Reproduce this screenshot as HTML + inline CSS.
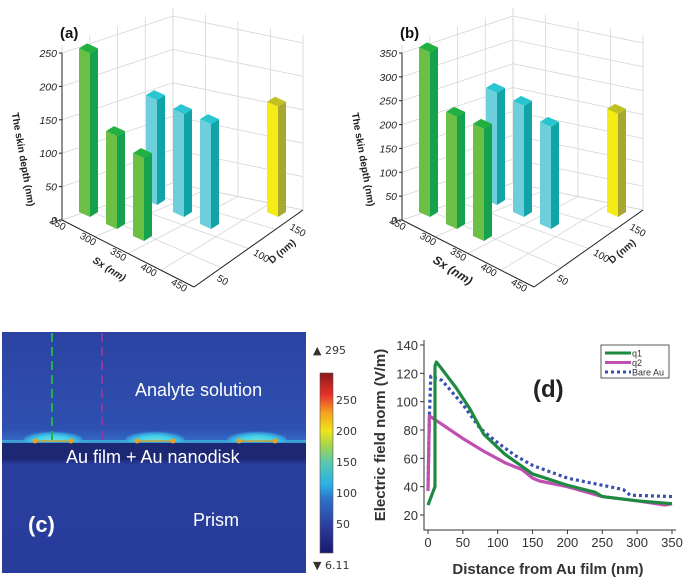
<!DOCTYPE html>
<html><head><meta charset="utf-8"><style>
body{margin:0;background:#fff;width:685px;height:579px;overflow:hidden;font-family:"Liberation Sans",sans-serif}
svg{position:absolute;left:0;top:0}
</style></head><body>
<svg id="fig" width="685" height="579" viewBox="0 0 685 579">
<defs>
<linearGradient id="cbar" x1="0" y1="1" x2="0" y2="0">
<stop offset="0" stop-color="#1a1a6e"/><stop offset="0.15" stop-color="#2b3d9c"/><stop offset="0.3" stop-color="#2f72c8"/><stop offset="0.38" stop-color="#2bb0e6"/><stop offset="0.5" stop-color="#56c8b0"/><stop offset="0.6" stop-color="#a8d44a"/><stop offset="0.68" stop-color="#f2e41c"/><stop offset="0.78" stop-color="#f5a020"/><stop offset="0.88" stop-color="#e8302a"/><stop offset="1" stop-color="#8a1a1a"/>
</linearGradient>
<radialGradient id="glow" cx="0.5" cy="1" r="0.6" fx="0.5" fy="1" gradientTransform="translate(0,0)">
<stop offset="0" stop-color="#7fe0d0"/><stop offset="0.55" stop-color="#40d0ea"/><stop offset="0.8" stop-color="#3aa8e0" stop-opacity="0.8"/><stop offset="1" stop-color="#2f6fc8" stop-opacity="0"/>
</radialGradient>
<linearGradient id="bg" x1="0" y1="0" x2="0" y2="1">
<stop offset="0" stop-color="#2c43a2"/><stop offset="0.4" stop-color="#2e50b0"/><stop offset="0.45" stop-color="#3468c4"/><stop offset="0.46" stop-color="#1d2a78"/><stop offset="0.53" stop-color="#1f2d80"/><stop offset="0.55" stop-color="#2a3e9e"/><stop offset="1" stop-color="#283c9a"/>
</linearGradient>
</defs>
<g id="pa"></g>
<g id="pb"></g>
<g id="pc">
<rect x="2" y="332" width="304" height="241" fill="url(#bg)"/>
<rect x="2" y="440" width="304" height="3" fill="#3fb4e0" opacity="0.8"/>
<rect x="2" y="443" width="304" height="17" fill="#1c2874"/>
<g>
<path d="M23,442 A30,19 0 0 1 83,442 Z" fill="url(#glow)"/>
<path d="M125,442 A30,19 0 0 1 185,442 Z" fill="url(#glow)"/>
<path d="M227,442 A30,19 0 0 1 287,442 Z" fill="url(#glow)"/>
<line x1="35" y1="441" x2="71" y2="441" stroke="#c0a040" stroke-width="1.5"/>
<line x1="137" y1="441" x2="173" y2="441" stroke="#c0a040" stroke-width="1.5"/>
<line x1="239" y1="441" x2="275" y2="441" stroke="#c0a040" stroke-width="1.5"/>
<circle cx="35" cy="441" r="2.5" fill="#f0a020"/><circle cx="71" cy="441" r="2.5" fill="#f0a020"/>
<circle cx="137" cy="441" r="2.5" fill="#f0a020"/><circle cx="173" cy="441" r="2.5" fill="#f0a020"/>
<circle cx="239" cy="441" r="2.5" fill="#f0a020"/><circle cx="275" cy="441" r="2.5" fill="#f0a020"/>
</g>
<line x1="52" y1="333" x2="52" y2="445" stroke="#22b050" stroke-width="2" stroke-dasharray="9,5"/>
<line x1="102" y1="333" x2="102" y2="445" stroke="#8a3a9a" stroke-width="2" stroke-dasharray="9,5"/>
<text x="135" y="396" font-size="18" fill="#fff">Analyte solution</text>
<text x="66" y="463" font-size="18" fill="#fff">Au film + Au nanodisk</text>
<text x="193" y="526" font-size="18" fill="#fff">Prism</text>
<text x="28" y="532" font-size="22" font-weight="bold" fill="#fff">(c)</text>
<rect x="320" y="373" width="13" height="180" fill="url(#cbar)" stroke="#555" stroke-width="0.6"/>
<g font-size="11" fill="#333" font-family="'DejaVu Sans',sans-serif">
<text x="313" y="354">▲ 295</text><text x="313" y="569">▼ 6.11</text>
<text x="336" y="404">250</text><text x="336" y="435">200</text><text x="336" y="466">150</text><text x="336" y="497">100</text><text x="336" y="528">50</text>
</g>
</g>
<g id="pd"></g>
</svg>
<script>
const NS='http://www.w3.org/2000/svg';
function mk(p,t,a,txt){const e=document.createElementNS(NS,t);for(const k in a)e.setAttribute(k,a[k]);if(txt!==undefined)e.textContent=txt;p.appendChild(e);return e;}

// ---- 3D bar data ----
const barSx=[250,300,350,300,350,400,450];
const barD=[50,50,50,100,100,100,150];
const barKind=['g','g','g','c','c','c','y'];
const valuesA=[245,139,124,157,154,157,165];
const valuesB=[345,235,235,235,233,214,216];
const zTicksA=[0,50,100,150,200,250];
const zTicksB=[0,50,100,150,200,250,300,350];
const sxTicks=[250,300,350,400,450];
const dTicks=[50,100,150];

function draw3D(g,ox,vals,zmax,zt,label,ytitleSmall){
  const L=[ox+62,220],F=[ox+194,287],R=[ox+303,210],B=[ox+173,183];
  const H=167;
  const zp=v=>v/zmax*H;
  const lerp=(a,b,t)=>[a[0]+(b[0]-a[0])*t,a[1]+(b[1]-a[1])*t];
  const gl={stroke:'#d6d6d6','stroke-width':0.8,fill:'none'};
  const n=zt.length-1;
  for(let i=0;i<=n;i++){const h=zp(zt[i]);
    let l=mk(g,'polyline',Object.assign({points:`${L[0]},${L[1]-h} ${B[0]},${B[1]-h} ${R[0]},${R[1]-h}`},gl));
    }
  for(let i=0;i<=4;i++){const p=lerp(L,B,i/4),q=lerp(B,R,i/4);
    mk(g,'line',Object.assign({x1:p[0],y1:p[1],x2:p[0],y2:p[1]-H-8},gl));
    mk(g,'line',Object.assign({x1:q[0],y1:q[1],x2:q[0],y2:q[1]-H-8},gl));}
  mk(g,'line',Object.assign({x1:B[0],y1:B[1],x2:B[0],y2:13},gl));
  for(let i=0;i<=4;i++){const t=i/4;const a=lerp(L,F,t),b=lerp(B,R,t);mk(g,'line',Object.assign({x1:a[0],y1:a[1],x2:b[0],y2:b[1]},gl));
    const c=lerp(F,R,t),d=lerp(L,B,t);mk(g,'line',Object.assign({x1:c[0],y1:c[1],x2:d[0],y2:d[1]},gl));}
  const ax={stroke:'#222','stroke-width':1,fill:'none'};
  let a1=mk(g,'line',Object.assign({x1:L[0],y1:L[1],x2:L[0],y2:L[1]-H},ax));
  mk(g,'line',Object.assign({x1:L[0],y1:L[1],x2:F[0],y2:F[1]},ax));
  mk(g,'line',Object.assign({x1:F[0],y1:F[1],x2:R[0],y2:R[1]},ax));
  zt.forEach(v=>{const y=L[1]-zp(v);mk(g,'line',{x1:L[0]-3,y1:y,x2:L[0],y2:y,stroke:'#222'});
    let t=mk(g,'text',{x:L[0]-5,y:y+4,'font-size':10.5,'font-style':'italic','text-anchor':'end',fill:'#222'},v);
    });
  sxTicks.forEach((v,i)=>{const p=lerp(L,F,(v-250)/200*0.92+0.04);
    let t=mk(g,'text',{x:p[0]-4,y:p[1]+8,'font-size':10,'text-anchor':'end',fill:'#222',transform:`rotate(30 ${p[0]-4} ${p[1]+8})`},v);
    });
  dTicks.forEach(v=>{const p=lerp(F,R,(v-25)/150);
    let t=mk(g,'text',{x:p[0]+4,y:p[1]+6,'font-size':10,fill:'#222',transform:`rotate(30 ${p[0]+4} ${p[1]+6})`},v);
    });
  let xt=mk(g,'text',{x:ox+92,y:262,'font-size':ytitleSmall?10:12,'font-weight':'bold','font-style':'italic',fill:'#222',transform:`rotate(32 ${ox+92} 262)`},'Sx (nm)');
  
  let dt=mk(g,'text',{x:ox+272,y:264,'font-size':10,'font-weight':'bold',fill:'#222',transform:`rotate(-40 ${ox+272} 264)`},'D (nm)');
  
  let yt=mk(g,'text',{x:ox+20,y:160,'font-size':10,'font-weight':'bold','text-anchor':'middle',fill:'#222',transform:`rotate(80 ${ox+20} 160)`},'The skin depth (nm)');
  
  let pl=mk(g,'text',{x:ox+60,y:38,'font-size':15,'font-weight':'bold',fill:'#111'},label);
  
  const col={g:['#6cbf45','#14a24c','#22b040'],c:['#6ecfdc','#11a3a6','#2ac6d0'],y:['#f4ec14','#a8a830','#c0c020']};
  const proj=(sx,d)=>[ox+90+(sx-250)/50*27+(d-50)/50*40, 217+(sx-250)/50*12-(d-50)/50*24];
  const order=barSx.map((_,i)=>i).sort((i,j)=>(barD[j]-barD[i])||(barSx[i]-barSx[j]));
  order.forEach(i=>{const P=proj(barSx[i],barD[i]);const h=zp(vals[i]);const c=col[barKind[i]];
    const bar=mk(g,'g',{});
    
    
    const x=P[0],y=P[1];
    mk(bar,'polygon',{points:`${x-11},${y-5} ${x},${y} ${x},${y-h} ${x-11},${y-5-h}`,fill:c[0]});
    mk(bar,'polygon',{points:`${x},${y} ${x+8},${y-5} ${x+8},${y-5-h} ${x},${y-h}`,fill:c[1]});
    mk(bar,'polygon',{points:`${x-11},${y-5-h} ${x},${y-h} ${x+8},${y-5-h} ${x-3},${y-10-h}`,fill:c[2]});
  });
}
draw3D(document.getElementById('pa'),0,valuesA,250,zTicksA,'(a)',true);
draw3D(document.getElementById('pb'),340,valuesB,350,zTicksB,'(b)',false);

// ---- panel d ----
const q1X=[0,10,10,12,20,40,60,80,110,150,200,240,250,300,350];
const q1Y=[27,40,125,128,123,110,95,77,63,49,41,36,33,30,28];
const q2X=[0,2,20,50,80,110,125,135,150,160,200,250,300,340,350];
const q2Y=[37,90,84,74,65,57,54,52,46,44,40,33,30,27,28];
const bareX=[0,2,4,20,50,75,100,125,150,200,250,280,290,350];
const bareY=[40,90,118,115,98,81,71,62,55,46,41,38,34,33];
const xTicks=[0,50,100,150,200,250,300,350];
const yTicks=[20,40,60,80,100,120,140];
(function(){
  const g=document.getElementById('pd');
  const X=v=>428+v/350*244, Y=v=>515-(v-20)/120*170;
  const ax=mk(g,'polyline',{points:`424,340 424,530 676,530`,fill:'none',stroke:'#333','stroke-width':1});
  
  yTicks.forEach(v=>{mk(g,'line',{x1:420,y1:Y(v),x2:424,y2:Y(v),stroke:'#333'});
    let t=mk(g,'text',{x:418,y:Y(v)+5,'font-size':13,'text-anchor':'end',fill:'#333'},v);
    });
  xTicks.forEach(v=>{mk(g,'line',{x1:X(v),y1:530,x2:X(v),y2:534,stroke:'#333'});
    let t=mk(g,'text',{x:X(v),y:547,'font-size':13,'text-anchor':'middle',fill:'#333'},v);
    });
  let xt=mk(g,'text',{x:548,y:574,'font-size':15,'font-weight':'bold','text-anchor':'middle',fill:'#333'},'Distance from Au film (nm)');
  
  let yt=mk(g,'text',{x:385,y:435,'font-size':15,'font-weight':'bold','text-anchor':'middle',fill:'#333',transform:'rotate(-90 385 435)'},'Electric field norm (V/m)');
  
  const line=(xs,ys,a,name)=>{const p=xs.map((x,i)=>X(x)+','+Y(ys[i])).join(' ');
    const e=mk(g,'polyline',Object.assign({points:p,fill:'none','stroke-linejoin':'round'},a));
    };
  line(bareX,bareY,{stroke:'#3a4fb0','stroke-width':3.2,'stroke-dasharray':'3,3'},'series-bare-au');
  line(q2X,q2Y,{stroke:'#c050b0','stroke-width':3.2},'series-q2');
  line(q1X,q1Y,{stroke:'#1e8a40','stroke-width':3.2},'series-q1');
  const lg=mk(g,'g',{});
  
  mk(lg,'rect',{x:601,y:345,width:68,height:33,fill:'#fff',stroke:'#333','stroke-width':0.8});
  const ents=[['q1',{stroke:'#1e8a40','stroke-width':3}],['q2',{stroke:'#c050b0','stroke-width':3}],['Bare Au',{stroke:'#3a4fb0','stroke-width':3,'stroke-dasharray':'3,3'}]];
  ents.forEach((e,i)=>{const y=353+i*9.5;const en=mk(lg,'g',{});
    
    mk(en,'line',Object.assign({x1:605,y1:y,x2:631,y2:y},e[1]));
    mk(en,'text',{x:632,y:y+3.5,'font-size':9,fill:'#333'},e[0]);});
  let pl=mk(g,'text',{x:533,y:397,'font-size':24,'font-weight':'bold',fill:'#222'},'(d)');
  
})();
</script>
</body></html>
